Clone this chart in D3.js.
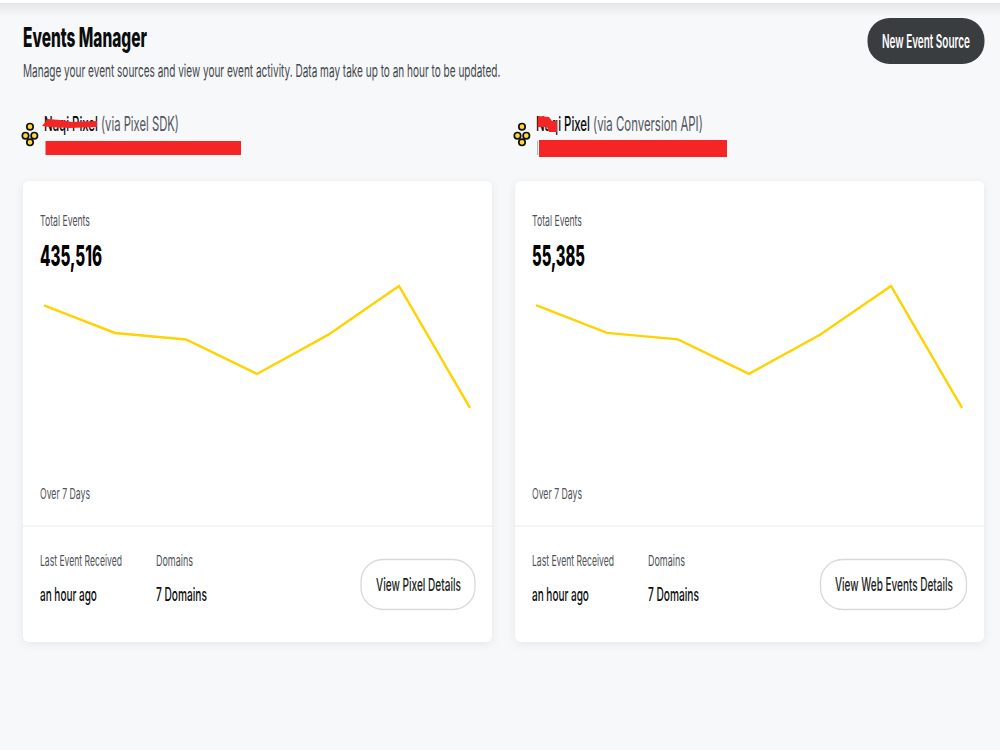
<!DOCTYPE html>
<html>
<head>
<meta charset="utf-8">
<title>Events Manager</title>
<script src="https://cdn.jsdelivr.net/npm/d3@7"></script>
<style>
  html, body { margin: 0; background: #f7f8fa; }
  svg { display: block; }
  text { font-family: Inter, "Open Sans", sans-serif; }
  .card { filter: drop-shadow(0 2px 5px rgba(0,0,0,0.07)); }
</style>
</head>
<body>
<svg id="chart" width="1000" height="750"></svg>
<script>
(function() {

  // daily event counts
  var days = ['Day 1', 'Day 2', 'Day 3', 'Day 4', 'Day 5', 'Day 6', 'Day 7'];
  var pixelEvents = [78800, 65600, 62500, 46000, 64700, 88100, 29700];
  var apiEvents = [10030, 8350, 7950, 5850, 8230, 11200, 3780];

  var sourceNames = ['Naqi Pixel', 'Naqi Pixel'];
  var sourceVias = ['(via Pixel SDK)', '(via Conversion API)'];
  var totals = ['435,516', '55,385'];
  var buttonLabels = ['View Pixel Details', 'View Web Events Details'];

  var INK = '#0b0c0d', GREY = '#4f5358', LINE = '#ffd200', RED = '#f62525';

  var svg = d3.select('#chart');

  // shadow under the top bar
  var grad = svg.append('defs').append('linearGradient')
    .attr('id', 'topShadow')
    .attr('x1', 0).attr('x2', 0).attr('y1', 0).attr('y2', 1);
  grad.append('stop').attr('offset', 0).attr('stop-color', '#e4e5e7');
  grad.append('stop').attr('offset', 1).attr('stop-color', '#f7f8fa');

  svg.append('rect').attr('width', 1000).attr('height', 750).attr('fill', '#f7f8fa');
  svg.append('rect').attr('width', 1000).attr('height', 3).attr('fill', '#ffffff');
  svg.append('rect').attr('y', 3).attr('width', 1000).attr('height', 13).attr('fill', 'url(#topShadow)');

  // text squeezed to a measured width, the screenshot is condensed
  function label(parent, str, x, x2, y, size, weight, color) {
    var t = parent.append('text')
      .attr('font-size', size)
      .attr('font-weight', weight)
      .attr('fill', color)
      .text(str);
    var k = (x2 - x) / t.node().getComputedTextLength();
    t.attr('transform', 'translate(' + x + ',' + y + ') scale(' + k + ',1)');
    return t;
  }

  label(svg, 'Events Manager', 23, 147, 47, 27, 800, INK);
  label(svg, 'Manage your event sources and view your event activity. Data may take up to an hour to be updated.',
    23, 501, 77, 17.5, 400, '#44484d');

  svg.append('rect')
    .attr('x', 867.5).attr('y', 18).attr('width', 117).attr('height', 46).attr('rx', 22)
    .attr('fill', '#3a3d40');
  label(svg, 'New Event Source', 882, 970, 47.5, 18.5, 600, '#ffffff');

  // the two sources differ only by their offset and a few widths
  var layouts = [
    { dx: 0, nameEnd: 98, viaStart: 101, viaEnd: 179, barStart: 45.5, barEnd: 241, barTop: 141, barH: 14,
      totalEnd: 102, buttonX: 361, buttonW: 114, buttonTextX: 376, buttonTextEnd: 461, series: pixelEvents },
    { dx: 492, nameEnd: 98, viaStart: 101, viaEnd: 211, barStart: 47, barEnd: 235, barTop: 140, barH: 17,
      totalEnd: 93, buttonX: 328.5, buttonW: 146, buttonTextX: 343, buttonTextEnd: 461, series: apiEvents }
  ];

  layouts.forEach(function(d, i) {
    var g = svg.append('g').attr('transform', 'translate(' + d.dx + ',0)');

    // source icon
    var icon = g.append('g');
    [[30, 126.7], [25.5, 135.7], [34.3, 135.7], [30, 142.3]].forEach(function(c, k) {
      icon.append('circle')
        .attr('cx', c[0]).attr('cy', c[1]).attr('r', 3.2)
        .attr('fill', '#ffd83a')
        .attr('stroke', '#111111').attr('stroke-width', 1.7);
    });

    label(g, sourceNames[i], 44, d.nameEnd, 130.5, 20, 500, INK);
    label(g, sourceVias[i], d.viaStart, d.viaEnd, 130.5, 20, 400, '#53575c');

    // red redactions
    if (i === 0) {
      g.append('path')
        .attr('d', 'M42,126 L48,119 L60,120 L72,122 L97,121 L97,127 L70,128 L50,127 Z')
        .attr('fill', RED);
    } else {
      g.append('path')
        .attr('d', 'M46,116 L57,117 L60,121 L65,121 L65,132 L57,132 L55,127 L46,127 Z')
        .attr('fill', RED);
      g.append('rect').attr('x', 45).attr('y', 141).attr('width', 1).attr('height', 14).attr('fill', '#b5b7ba');
    }
    g.append('rect')
      .attr('x', d.barStart).attr('y', d.barTop)
      .attr('width', d.barEnd - d.barStart).attr('height', d.barH)
      .attr('fill', RED);

    // card
    g.append('rect')
      .attr('class', 'card')
      .attr('x', 23).attr('y', 181).attr('width', 469).attr('height', 461).attr('rx', 6)
      .attr('fill', '#ffffff');
    g.append('line')
      .attr('x1', 23).attr('x2', 492).attr('y1', 526).attr('y2', 526)
      .attr('stroke', '#e8e9ea').attr('stroke-width', 1.2);

    label(g, 'Total Events', 40, 90, 226, 15, 400, GREY);
    label(g, totals[i], 40, d.totalEnd, 266, 29, 800, '#000000');

    // the line
    var x = d3.scalePoint().domain(days).range([44, 470]);
    var y = d3.scaleLinear().domain([0, d3.max(d.series)]).range([470, 286]);
    var line = d3.line()
      .x(function(v, k) { return x(days[k]); })
      .y(function(v) { return y(v); });
    g.append('path')
      .datum(d.series)
      .attr('d', line)
      .attr('fill', 'none')
      .attr('stroke', LINE)
      .attr('stroke-width', 2.4)
      .attr('stroke-linejoin', 'miter');

    label(g, 'Over 7 Days', 40, 90, 499, 15, 400, GREY);

    label(g, 'Last Event Received', 40, 122, 566, 15, 400, GREY);
    label(g, 'Domains', 156, 193, 566, 15, 400, GREY);
    label(g, 'an hour ago', 40, 97, 601, 18, 500, INK);
    label(g, '7 Domains', 156, 207, 601, 18, 500, INK);

    g.append('rect')
      .attr('x', d.buttonX).attr('y', 559.5).attr('width', d.buttonW).attr('height', 50).attr('rx', 22)
      .attr('fill', '#ffffff').attr('stroke', '#d8d9da').attr('stroke-width', 1.3);
    label(g, buttonLabels[i], d.buttonTextX, d.buttonTextEnd, 590.5, 18, 500, '#1c1f24');
  });

})();
</script>
</body>
</html>
